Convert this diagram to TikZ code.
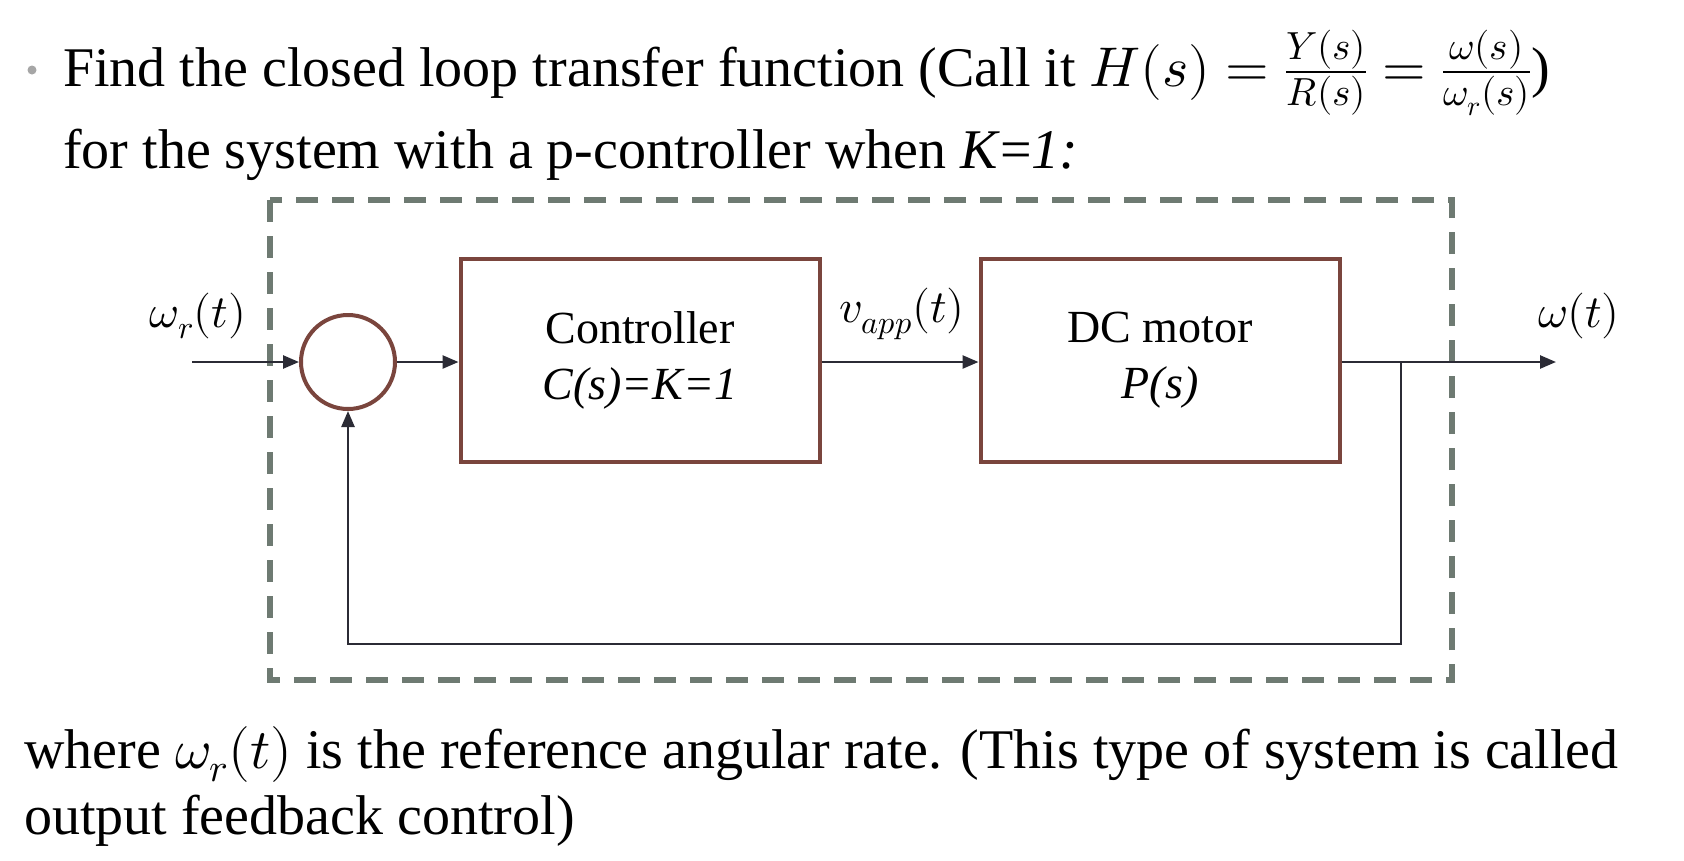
\documentclass[tikz,border=0pt]{standalone}
\usepackage{amsmath}
\usepackage{fontspec}
\usepackage{unicode-math}
\setmainfont{Liberation Serif}
\setmathfont{Latin Modern Math}
\usetikzlibrary{arrows.meta}
\definecolor{brn}{HTML}{7A453D}
\definecolor{dgr}{HTML}{6E7A72}
\definecolor{ink}{HTML}{2B2B35}
\begin{document}
\begin{tikzpicture}[x=1pt,y=-1pt,
  blk/.style={draw=brn,line width=4pt,minimum width=359pt,minimum height=203pt,align=center,font=\fontsize{46}{54}\selectfont,inner sep=0},
  sig/.style={draw=ink,line width=2.5pt},
  arr/.style={sig,-{Triangle[length=16pt,width=13pt]}},
  big/.style={font=\fontsize{56}{62}\selectfont,anchor=base west,inner sep=0},
  lab/.style={font=\fontsize{46}{50}\selectfont,inner sep=0}]
\useasboundingbox[fill=white] (0,0) rectangle (1684,860);
\node[circle,fill=gray!70,minimum size=9pt,inner sep=0] (bul) at (32,70) {};
\node[big] (l1) at (63,86) {Find the closed loop transfer function (Call it $H(s)=\frac{Y(s)}{R(s)}=\frac{\omega(s)}{\omega_r(s)}$)};
\node[big] (l2) at (63,168) {for the system with a p-controller when \textit{K}=\textit{1:}};
\draw[dgr,line width=6pt,dash pattern=on 22pt off 14pt] (270,200) rectangle (1452,680);
\node[circle,draw=brn,line width=4pt,minimum size=94pt,inner sep=0] (sum) at (348,362) {};
\node[blk] (ctrl) at (640,360) {Controller\\[2pt]\textit{C(s)=K=1}};
\node[blk] (dc) at (1160,360) {DC motor\\[2pt]\textit{P(s)}};
\coordinate (in) at (192,362);
\coordinate (out) at (1556,362);
\coordinate (br) at (1401,362);
\coordinate (bb) at (1401,644);
\coordinate (bl) at (348,644);
\draw[arr] (in) -- (sum.west);
\draw[arr] (sum.east) -- (ctrl.west |- sum.east);
\draw[arr] (ctrl.east |- 0,362) -- (dc.west |- 0,362);
\draw[arr] (dc.east |- 0,362) -- (out);
\draw[arr] (br) -- (bb) -- (bl) -- (sum.south);
\node[lab] (wr) at (198,316) {$\omega_r(t)$};
\node[lab] (va) at (902,314) {$v_{app}(t)$};
\node[lab] (wo) at (1579,316) {$\omega(t)$};
\node[big] (l3) at (24,768) {where $\omega_r(t)$ is the reference angular rate. (This type of system is called};
\node[big] (l4) at (24,834) {output feedback control)};
\end{tikzpicture}
\end{document}
